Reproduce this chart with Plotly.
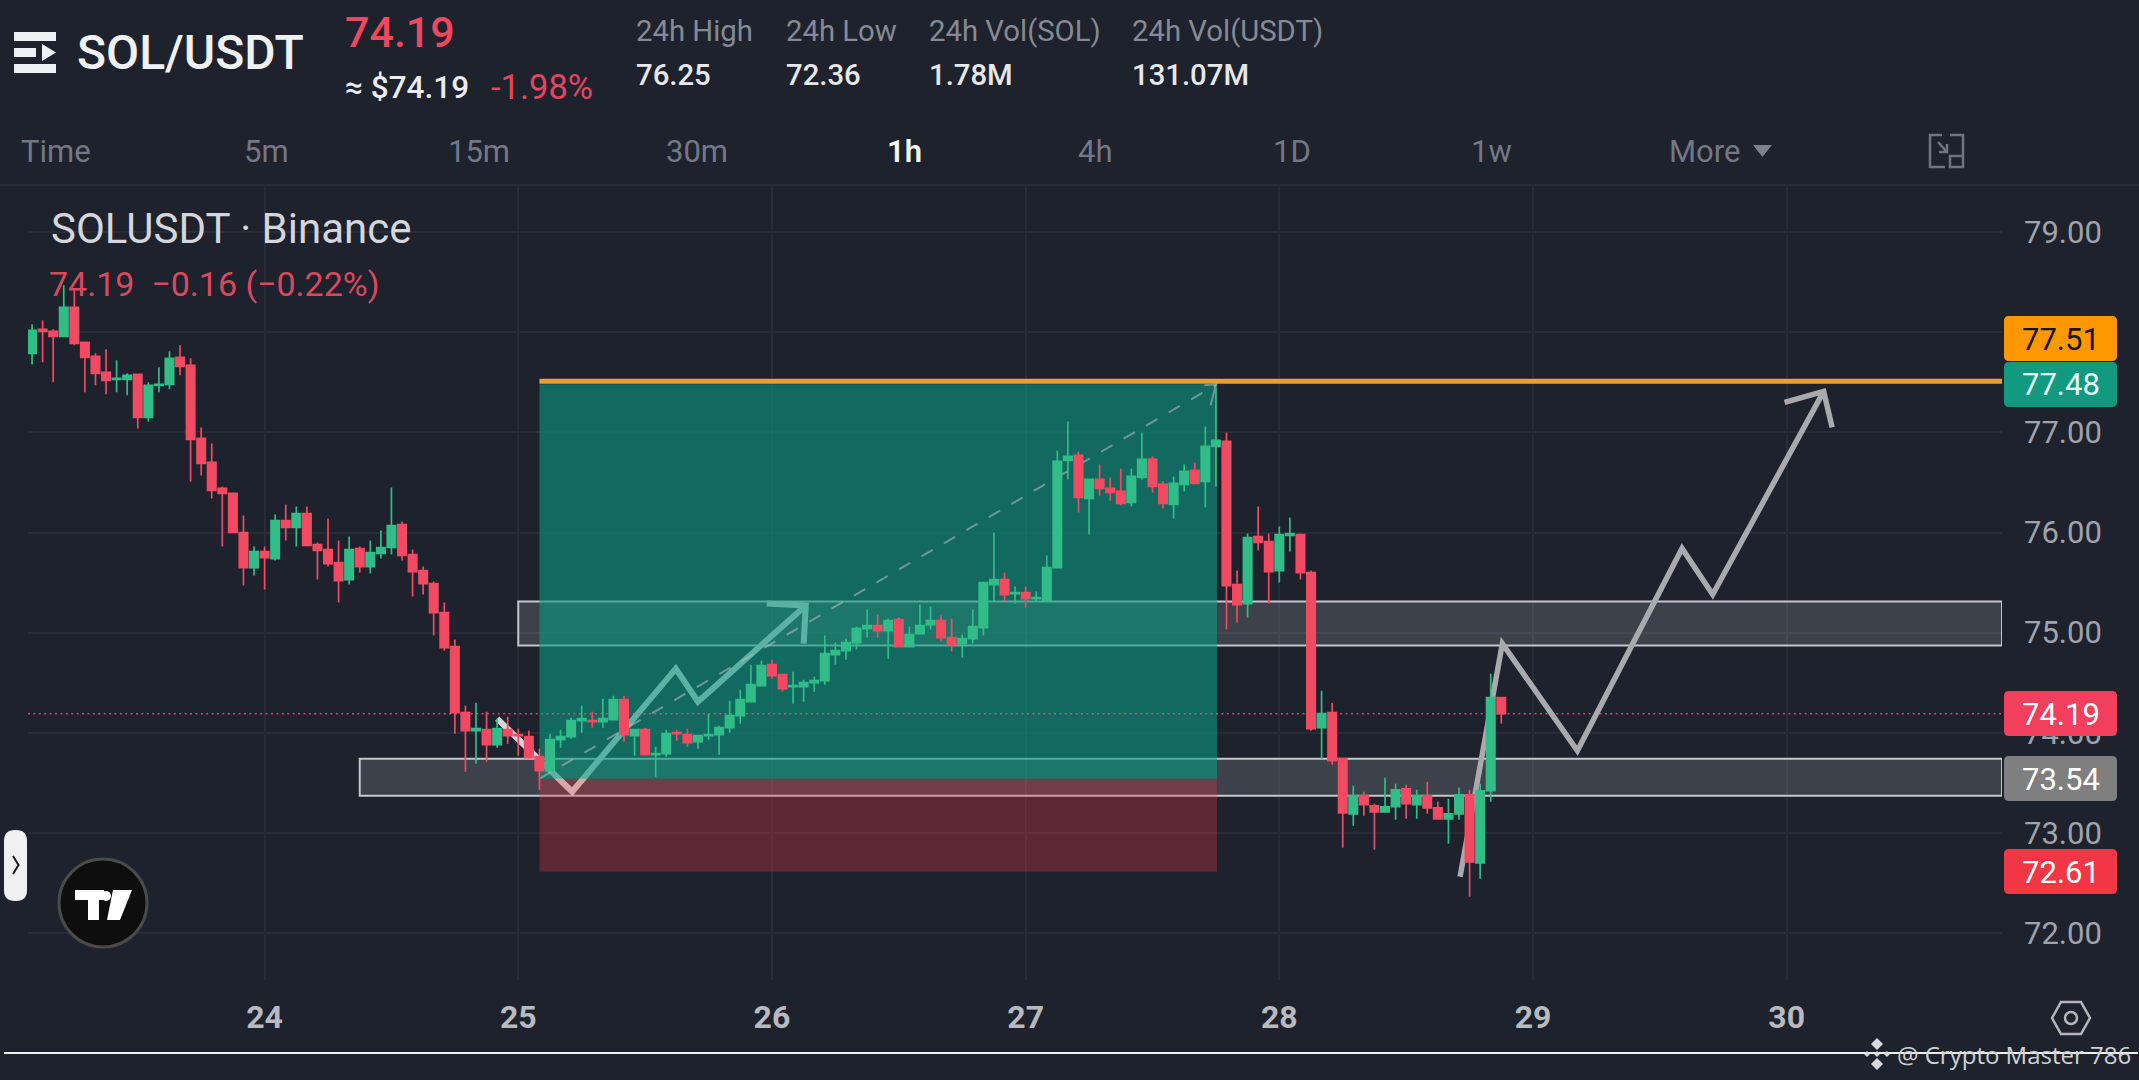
import plotly.graph_objects as go

W, H = 2139, 1080
BG = "#1e222d"
GRID = "#272c37"
GREEN = "#30bd88"
RED = "#f24a62"
FONT = "Roboto"

# hourly candles, hour 0 = midnight of the 24th
first_hour = -22
opens = [77.79, 78.03, 78.01, 77.96, 78.25, 77.90, 77.76, 77.60, 77.53, 77.53, 77.58, 77.15, 77.47, 77.48, 77.75, 77.67, 76.94, 76.70, 76.44, 76.39, 76.00, 75.65,
         75.81, 75.74, 76.12, 76.05, 76.19, 75.88, 75.83, 75.70, 75.53, 75.84, 75.66, 75.79, 75.85, 76.08, 75.78, 75.62, 75.49, 75.20, 74.86, 74.20, 74.02, 74.03, 73.88, 74.03,
         73.98, 73.96, 73.76, 73.62, 73.93, 73.96, 74.12, 74.12, 74.11, 74.13, 74.33, 73.97, 74.03, 73.78, 73.79, 74.00, 73.98, 73.91, 73.97, 73.98, 74.05, 74.17, 74.31, 74.47,
         74.68, 74.58, 74.46, 74.46, 74.50, 74.52, 74.78, 74.82, 74.90, 75.04, 75.07, 75.02, 75.13, 74.86, 74.99, 75.08, 75.12, 74.95, 74.89, 74.94, 75.05, 75.48, 75.53, 75.39,
         75.40, 75.34, 75.32, 75.65, 76.72, 76.77, 76.34, 76.53, 76.44, 76.41, 76.30, 76.55, 76.73, 76.48, 76.28, 76.48, 76.62, 76.51, 76.86, 76.91, 75.48, 75.29, 75.96, 75.91,
         75.62, 75.97, 75.98, 75.60, 74.05, 74.20, 73.74, 73.19, 73.37, 73.27, 73.21, 73.26, 73.44, 73.28, 73.37, 73.25, 73.14, 73.19, 73.38, 72.70, 73.42, 74.35]
highs = [78.08, 78.12, 78.03, 78.47, 78.42, 77.90, 77.79, 77.83, 77.72, 77.59, 77.58, 77.50, 77.65, 77.81, 77.87, 77.74, 77.05, 76.89, 76.46, 76.39, 76.17, 75.86,
         75.86, 76.18, 76.28, 76.26, 76.26, 75.90, 76.14, 75.92, 75.96, 75.86, 75.92, 76.02, 76.45, 76.11, 75.83, 75.66, 75.51, 75.30, 74.93, 74.27, 74.30, 74.21, 74.14, 74.16,
         74.04, 74.02, 73.84, 73.99, 74.03, 74.15, 74.27, 74.21, 74.34, 74.37, 74.37, 74.03, 74.05, 73.86, 74.03, 74.03, 74.04, 73.98, 74.19, 74.07, 74.32, 74.43, 74.68, 74.72,
         74.73, 74.58, 74.61, 74.53, 74.56, 74.97, 74.90, 74.94, 75.06, 75.23, 75.18, 75.14, 75.15, 75.06, 75.28, 75.26, 75.17, 75.14, 74.98, 75.23, 75.50, 76.00, 75.60, 75.46,
         75.46, 75.41, 75.77, 76.82, 77.11, 76.81, 76.53, 76.68, 76.55, 76.64, 76.64, 77.00, 76.76, 76.51, 76.56, 76.68, 76.70, 77.06, 77.45, 77.00, 75.62, 75.99, 76.26, 75.99,
         76.06, 76.15, 75.99, 75.62, 74.42, 74.30, 73.74, 73.47, 73.41, 73.29, 73.55, 73.49, 73.48, 73.43, 73.51, 73.31, 73.34, 73.45, 73.43, 73.49, 74.59, 74.35]
lows = [77.68, 77.70, 77.50, 77.96, 77.87, 77.40, 77.47, 77.38, 77.40, 77.37, 77.04, 77.11, 77.40, 77.43, 77.57, 76.51, 76.57, 76.34, 75.86, 76.00, 75.47, 75.57,
        75.43, 75.72, 75.92, 75.86, 75.87, 75.53, 75.66, 75.30, 75.48, 75.60, 75.59, 75.74, 75.78, 75.72, 75.36, 75.38, 74.97, 74.82, 73.99, 73.61, 73.69, 73.71, 73.85, 73.89,
        73.77, 73.74, 73.43, 73.61, 73.85, 73.94, 74.00, 74.05, 74.05, 74.13, 73.91, 73.77, 73.78, 73.56, 73.76, 73.92, 73.86, 73.84, 73.93, 73.78, 74.00, 74.09, 74.30, 74.47,
        74.54, 74.41, 74.29, 74.31, 74.41, 74.48, 74.68, 74.73, 74.83, 74.95, 74.95, 74.74, 74.86, 74.86, 74.99, 75.03, 74.91, 74.81, 74.75, 74.89, 74.97, 75.31, 75.31, 75.29,
        75.25, 75.31, 75.32, 75.65, 76.53, 76.20, 75.98, 76.37, 76.32, 76.27, 76.26, 76.53, 76.40, 76.24, 76.14, 76.41, 76.48, 76.25, 76.46, 75.03, 75.10, 75.15, 75.82, 75.29,
        75.50, 75.81, 75.53, 74.02, 73.74, 73.68, 72.85, 73.07, 73.17, 72.83, 73.20, 73.13, 73.14, 73.14, 73.19, 73.13, 72.89, 73.13, 72.36, 72.54, 73.31, 74.09]
closes = [78.02, 78.01, 77.96, 78.25, 77.89, 77.75, 77.59, 77.52, 77.54, 77.57, 77.15, 77.47, 77.48, 77.74, 77.66, 76.93, 76.69, 76.42, 76.39, 76.00, 75.65, 75.81,
          75.75, 76.12, 76.05, 76.19, 75.87, 75.82, 75.69, 75.52, 75.83, 75.66, 75.80, 75.85, 76.07, 75.77, 75.61, 75.49, 75.20, 74.85, 74.20, 74.02, 74.04, 73.88, 74.04, 73.97,
          73.97, 73.75, 73.62, 73.93, 73.96, 74.12, 74.14, 74.11, 74.14, 74.33, 73.98, 74.03, 73.78, 73.79, 73.99, 73.99, 73.90, 73.97, 73.98, 74.05, 74.17, 74.33, 74.48, 74.67,
          74.57, 74.44, 74.47, 74.50, 74.52, 74.79, 74.82, 74.90, 75.04, 75.07, 75.02, 75.12, 74.86, 74.98, 75.07, 75.12, 74.95, 74.88, 74.94, 75.06, 75.50, 75.53, 75.38, 75.40,
          75.34, 75.35, 75.65, 76.71, 76.76, 76.35, 76.53, 76.44, 76.40, 76.29, 76.56, 76.73, 76.46, 76.29, 76.49, 76.61, 76.49, 76.86, 76.92, 75.47, 75.28, 75.95, 75.90, 75.61,
          75.98, 75.99, 75.60, 74.04, 74.19, 73.72, 73.20, 73.37, 73.28, 73.21, 73.26, 73.43, 73.29, 73.37, 73.25, 73.14, 73.19, 73.38, 72.71, 73.42, 74.35, 74.19]
hours = list(range(first_hour, first_hour + len(opens)))

day_ticks = [0, 24, 48, 72, 96, 120, 144]
day_labels = ["24", "25", "26", "27", "28", "29", "30"]
price_ticks = [72, 73, 74, 75, 76, 77, 78, 79]
price_labels = ["72.00", "73.00", "74.00", "75.00", "76.00", "77.00", "78.00", "79.00"]

# drawings on the chart
position_hours = [26, 90.1]
entry, target, stop, alert = 73.54, 77.48, 72.61, 77.51
last_price = 74.19
zone_high = [75.31, 74.87]
zone_low = [73.74, 73.37]
zone_high_start, zone_low_start = 24, 9
path1_h = [22.0, 29.1, 38.9, 41.0, 51.2]
path1_p = [74.14, 73.41, 74.64, 74.31, 75.27]
head1_h = [47.5, 51.2, 51.0]
head1_p = [75.29, 75.27, 74.89]
path2_h = [113.1, 117.1, 124.2, 134.1, 137.0, 147.5]
path2_p = [72.56, 74.89, 73.82, 75.84, 75.38, 77.41]
head2_h = [143.8, 147.5, 148.3]
head2_p = [77.30, 77.41, 77.05]
dash_head_h = [88.9, 90.0, 89.5]
dash_head_p = [77.47, 77.48, 77.27]

# plot area in pixels
PLOT_L, PLOT_R, PLOT_T, PLOT_B = 28, 2002, 186, 980
PX_HOUR = 10.57
PX_DOLLAR = 100.1
hour_at = lambda px: (px - 264.6) / PX_HOUR
price_at = lambda py: 77 - (py - 432.4) / PX_DOLLAR
X_END = hour_at(PLOT_R)


def px(x):
    return x / W


def py(y):
    return 1 - y / H


def data_path(hs, ps):
    return "M " + " L ".join(f"{h} {p}" for h, p in zip(hs, ps))


def screen_path(points, close=True):
    d = "M " + " L ".join(f"{px(x):.5f} {py(y):.5f}" for x, y in points)
    return d + (" Z" if close else "")


def round_rect(x0, y0, x1, y1, r):
    x0p, x1p, y0p, y1p = px(x0), px(x1), py(y0), py(y1)
    rx, ry = px(r), r / H
    return (f"M {x0p + rx} {y0p} L {x1p - rx} {y0p} Q {x1p} {y0p} {x1p} {y0p - ry} "
            f"L {x1p} {y1p + ry} Q {x1p} {y1p} {x1p - rx} {y1p} L {x0p + rx} {y1p} "
            f"Q {x0p} {y1p} {x0p} {y1p + ry} L {x0p} {y0p - ry} Q {x0p} {y0p} {x0p + rx} {y0p} Z")


fig = go.Figure()
fig.add_trace(go.Candlestick(
    x=hours, open=opens, high=highs, low=lows, close=closes,
    whiskerwidth=0, hoverinfo="skip",
    increasing=dict(line=dict(color=GREEN, width=1.7), fillcolor=GREEN),
    decreasing=dict(line=dict(color=RED, width=1.7), fillcolor=RED),
))

shapes = []
zone_line = dict(color="#c4c6cb", width=2)
zone_fill = "rgba(255,255,255,0.14)"
shapes.append(dict(type="rect", xref="x", yref="y", x0=zone_high_start, x1=X_END, y0=zone_high[1], y1=zone_high[0],
                   line=zone_line, fillcolor=zone_fill, layer="between"))
shapes.append(dict(type="rect", xref="x", yref="y", x0=zone_low_start, x1=X_END, y0=zone_low[1], y1=zone_low[0],
                   line=zone_line, fillcolor=zone_fill, layer="between"))
white_line = dict(color="#d6d6da", width=6)
shapes.append(dict(type="path", xref="x", yref="y", path=data_path(path1_h, path1_p), line=white_line, layer="between"))
shapes.append(dict(type="path", xref="x", yref="y", path=data_path(head1_h, head1_p), line=white_line, layer="between"))
# long position box goes over the zones and the first arrow
shapes.append(dict(type="rect", xref="x", yref="y", x0=position_hours[0], x1=position_hours[1], y0=entry, y1=target,
                   line_width=0, fillcolor="rgba(8,153,129,0.6)", layer="between"))
shapes.append(dict(type="rect", xref="x", yref="y", x0=position_hours[0], x1=position_hours[1], y0=stop, y1=entry,
                   line_width=0, fillcolor="rgba(242,54,69,0.3)", layer="between"))
shapes.append(dict(type="line", xref="x", yref="y", x0=position_hours[0], x1=position_hours[1], y0=entry, y1=target,
                   line=dict(color="rgba(190,190,195,0.55)", width=2, dash="13px,13px"), layer="between"))
shapes.append(dict(type="path", xref="x", yref="y", path=data_path(dash_head_h, dash_head_p),
                   line=dict(color="rgba(190,190,195,0.55)", width=2), layer="between"))
shapes.append(dict(type="line", xref="x", yref="y", x0=hour_at(PLOT_L), x1=X_END, y0=last_price, y1=last_price,
                   line=dict(color="rgba(242,80,110,0.85)", width=1.6, dash="2px,3.4px"), layer="between"))
gray_line = dict(color="#aaaaae", width=5.5)
shapes.append(dict(type="path", xref="x", yref="y", path=data_path(path2_h, path2_p), line=gray_line, layer="between"))
shapes.append(dict(type="path", xref="x", yref="y", path=data_path(head2_h, head2_p), line=gray_line, layer="between"))
shapes.append(dict(type="line", xref="x", yref="y", x0=position_hours[0], x1=X_END, y0=alert, y1=alert,
                   line=dict(color="#eba02a", width=5), layer="between"))


def screen_shape(path, fill=None, line=None, width=0, layer="above"):
    shapes.append(dict(type="path", xref="paper", yref="paper", path=path, fillcolor=fill,
                       line=dict(color=line, width=width) if line else dict(width=0), layer=layer))


labels = []


def label(text, x, y, size, color, anchor="left", weight=400, family=FONT):
    # annotations sit a couple of pixels right of their anchor
    x = x - 3 if anchor == "left" else x
    labels.append(dict(text=text, xref="paper", yref="paper", x=px(x), y=py(y), xanchor=anchor, yanchor="middle",
                       showarrow=False, font=dict(family=family, size=size, color=color, weight=weight)))


# price tags on the right
tag_values = ["77.51", "77.48", "74.19", "73.54", "72.61"]
tag_fill = ["#ff9800", "#119a80", "#f23f5e", "#7f7f7f", "#f23645"]
tag_text = ["#1b1405", "#e9fbf6", "#ffffff", "#ffffff", "#ffffff"]
tag_top = [316, 362, 691, 756, 849]
for value, fill, color, top in zip(tag_values, tag_fill, tag_text, tag_top):
    screen_shape(round_rect(2004, top, 2117, top + 45, 5), fill=fill)
    label(value, 2061, top + 23, 31, color, anchor="center")

# header
for y0, y1, x1 in [(32, 41, 56), (64, 73, 56), (48, 57, 36)]:
    screen_shape(screen_path([(14, y0), (x1, y0), (x1, y1), (14, y1)]), fill="#eef0f3")
screen_shape(screen_path([(42, 44), (56, 52.5), (42, 61)]), fill="#eef0f3")
label("SOL/USDT", 78, 53, 48, "#eef0f3", weight=500)
label("74.19", 346, 32, 43, "#f0475f", weight=500)
label("≈ $74.19", 346, 87, 31.5, "#eaecef", weight=500)
label("-1.98%", 492, 87, 34.5, "#e0475f", weight=400)

stat_names = ["24h High", "24h Low", "24h Vol(SOL)", "24h Vol(USDT)"]
stat_values = ["76.25", "72.36", "1.78M", "131.07M"]
stat_x = [637, 787, 930, 1133]
for name, value, x in zip(stat_names, stat_values, stat_x):
    label(name, x, 31, 29.3, "#868a94")
    label(value, x, 75, 29.3, "#e6e8eb", weight=500)

tabs = ["Time", "5m", "15m", "30m", "1h", "4h", "1D", "1w", "More"]
tab_x = [22, 245, 449, 667, 888, 1079, 1274, 1472, 1670]
for tab, x in zip(tabs, tab_x):
    on = tab == "1h"
    label(tab, x, 152, 31, "#f4f5f6" if on else "#747884", weight=600 if on else 400)
screen_shape(screen_path([(1753, 145), (1772, 145), (1762.5, 157)]), fill="#7c808c")
icon = "#6f7483"
screen_shape(screen_path([(1950, 135), (1963, 135), (1963, 155)], close=False), line=icon, width=2.5)
screen_shape(screen_path([(1942, 135), (1930, 135), (1930, 167), (1945, 167)], close=False), line=icon, width=2.5)
screen_shape(screen_path([(1950, 156), (1963, 156), (1963, 167), (1950, 167)]), line=icon, width=2.5)
screen_shape(screen_path([(1938, 142), (1946, 151)], close=False), line=icon, width=2.5)
screen_shape(screen_path([(1947, 144), (1947, 152), (1939, 152)], close=False), line=icon, width=2.5)
screen_shape(screen_path([(0, 185), (W, 185)], close=False), line=GRID, width=2, layer="below")

label("SOLUSDT · Binance", 52, 228, 42, "#d4d6dc")
label("74.19\u00a0\u00a0−0.16 (−0.22%)", 50, 284, 34, "#d8495f")

# side tab and tradingview badge
screen_shape(round_rect(4, 830, 27, 901, 11), fill="#eff0f2")
screen_shape(screen_path([(13, 856), (18.5, 865), (13, 874)], close=False), line="#16181d", width=2)
shapes.append(dict(type="circle", xref="paper", yref="paper", x0=px(59), x1=px(147), y0=py(947), y1=py(859),
                   fillcolor="#0e0e0e", line=dict(color="#4a4a4a", width=3), layer="above"))
screen_shape(screen_path([(75, 890), (104, 890), (104, 900), (99, 900), (99, 920), (88, 920), (88, 900), (75, 900)]), fill="#ffffff")
screen_shape(screen_path([(113, 890), (132, 890), (120, 920), (107, 920)]), fill="#ffffff")
shapes.append(dict(type="circle", xref="paper", yref="paper", x0=px(101), x1=px(111), y0=py(901), y1=py(891),
                   fillcolor="#ffffff", line_width=0, layer="above"))

# bottom strip
screen_shape(screen_path([(4, 1053), (W - 1, 1053)], close=False), line="#f0f0f0", width=2)
hex_pts = [(2052, 1018), (2061, 1002), (2081, 1002), (2090, 1018), (2081, 1034), (2061, 1034)]
screen_shape(screen_path(hex_pts), line="#b4b6ba", width=2.5)
shapes.append(dict(type="circle", xref="paper", yref="paper", x0=px(2065), x1=px(2077), y0=py(1024), y1=py(1012),
                   line=dict(color="#b4b6ba", width=2.5), layer="above"))
for cx, cy, r in [(1877, 1044, 6), (1867, 1054, 3), (1887, 1054, 3), (1877, 1054, 3), (1877, 1064, 6)]:
    screen_shape(screen_path([(cx, cy - r), (cx + r, cy), (cx, cy + r), (cx - r, cy)]), fill="#d8d9dc")
label("@ Crypto Master 786", 1898, 1054, 24, "#cfd1d4", family="Open Sans")

fig.update_layout(
    width=W, height=H,
    margin=dict(l=0, r=0, t=0, b=0),
    paper_bgcolor=BG, plot_bgcolor=BG,
    showlegend=False, hovermode=False, boxgap=0.15, boxgroupgap=0.07,
    shapes=shapes, annotations=labels,
    xaxis=dict(domain=[px(PLOT_L), px(PLOT_R)], range=[hour_at(PLOT_L), X_END],
               rangeslider=dict(visible=False), tickmode="array", tickvals=day_ticks, ticktext=day_labels,
               showgrid=True, gridcolor=GRID, gridwidth=2, zeroline=False, showline=False, ticks="",
               ticklabelstandoff=15, tickfont=dict(family=FONT, size=32, color="#b9babf", weight=700)),
    yaxis=dict(domain=[py(PLOT_B), py(PLOT_T)], range=[price_at(PLOT_B), price_at(PLOT_T)], side="right",
               tickmode="array", tickvals=price_ticks, ticktext=price_labels,
               showgrid=True, gridcolor=GRID, gridwidth=2, zeroline=False, showline=False, ticks="",
               ticklabelstandoff=21, tickfont=dict(family=FONT, size=31, color="#a0a3aa")),
)

fig.write_html("out.html", config={"displayModeBar": False},
               post_script="document.body.style.margin='0';document.body.style.background='" + BG + "';")
